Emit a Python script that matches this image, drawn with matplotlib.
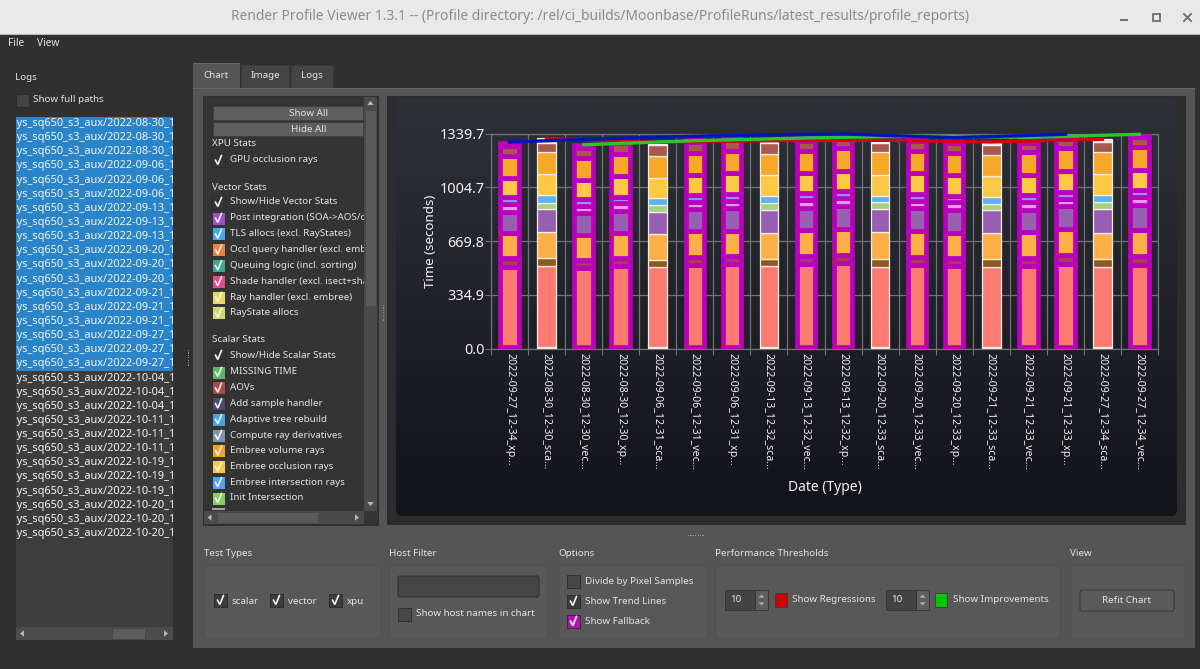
import numpy as np
import matplotlib
matplotlib.use("Agg")
import matplotlib.pyplot as plt
from matplotlib.patches import Rectangle, FancyBboxPatch, Polygon

plt.rcParams['font.family'] = ['Noto Sans', 'DejaVu Sans']

# ---------- chart data ----------
categories = [
    "2022-09-27_12-34_xp...", "2022-08-30_12-30_sca...", "2022-08-30_12-30_vec...",
    "2022-08-30_12-30_xp...", "2022-09-06_12-31_sca...", "2022-09-06_12-31_vec...",
    "2022-09-06_12-31_xp...", "2022-09-13_12-32_sca...", "2022-09-13_12-32_vec...",
    "2022-09-13_12-32_xp...", "2022-09-20_12-33_sca...", "2022-09-20_12-33_vec...",
    "2022-09-20_12-33_xp...", "2022-09-21_12-33_sca...", "2022-09-21_12-33_vec...",
    "2022-09-21_12-33_xp...", "2022-09-27_12-34_sca...", "2022-09-27_12-34_vec...",
]
y_ticks = [0.0, 334.9, 669.8, 1004.7, 1339.7]
is_scalar = [False, True, False, False, True, False, False, True, False,
             False, True, False, False, True, False, False, True, False]

base      = [10] * 18
salmon    = [501, 507, 493, 505, 497, 512, 514, 507, 516, 522, 501, 510, 503, 501, 505, 518, 501, 512]
brown     = [52, 46, 48, 48, 46, 50, 52, 42, 54, 50, 46, 52, 50, 46, 50, 54, 46, 54]
amber     = [156, 166, 156, 156, 164, 158, 158, 164, 158, 162, 168, 160, 160, 166, 160, 162, 166, 162]
purple    = [135, 139, 135, 141, 137, 141, 143, 141, 141, 146, 146, 143, 143, 139, 141, 146, 148, 158]
pale      = [46, 42, 46, 46, 42, 44, 46, 42, 46, 46, 40, 48, 46, 40, 48, 44, 40, 46]
sky       = [44, 46, 42, 42, 42, 42, 42, 46, 44, 44, 42, 42, 42, 42, 42, 42, 46, 44]
yellow    = [121, 133, 121, 125, 127, 127, 127, 129, 123, 129, 131, 127, 125, 129, 127, 129, 129, 127]
orange    = [137, 135, 137, 139, 137, 137, 139, 135, 141, 139, 139, 139, 139, 135, 141, 143, 139, 141]
rust      = [64, 60, 64, 67, 67, 67, 69, 64, 62, 58, 60, 64, 62, 64, 60, 58, 60, 67]
top_cap   = [15, 27, 17, 12, 6, 15, 10, 8, 19, 12, 6, 12, 17, 8, 17, 12, 23, 4]
segments = [base, salmon, brown, amber, purple, pale, sky, yellow, orange, rust, top_cap]

scalar_colors   = ['#f2e6dc', '#fb7b72', '#8c5a1c', '#fdb047', '#995fb2', '#a9d184', '#5fb0ee', '#fdc945', '#f6a82a', '#a9584e', '#dfe9dc']
fallback_colors = ['#fb7b72', '#fb7b72', '#a83c5c', '#fdb047', '#995fb2', '#e89ae8', '#8f92ff', '#fdc945', '#f6a82a', '#a9584e', '#bb00bb']

trend_x_xpu, trend_xpu = [0, 3, 6, 9, 12, 15], [1288, 1311, 1330, 1338, 1315, 1336]
trend_x_vec, trend_vec = [2, 5, 8, 11, 14, 17], [1271, 1296, 1313, 1324, 1317, 1336]
trend_x_sca, trend_sca = [1, 4, 7, 10, 13, 16], [1311, 1286, 1296, 1299, 1288, 1305]

# ---------- GUI text data ----------
log_dates = (["2022-08-30"] * 3 + ["2022-09-06"] * 3 + ["2022-09-13"] * 3 + ["2022-09-20"] * 3 +
             ["2022-09-21"] * 3 + ["2022-09-27"] * 3 + ["2022-10-04"] * 3 + ["2022-10-11"] * 3 +
             ["2022-10-19"] * 3 + ["2022-10-20"] * 3)
vector_items = [("Post integration (SOA->AOS/conv)", '#a04fc4'), ("TLS allocs (excl. RayStates)", '#48a8ea'),
                ("Occl query handler (excl. embree)", '#ef7f45'), ("Queuing logic (incl. sorting)", '#3fa88f'),
                ("Shade handler (excl. isect+shading)", '#e04a8e'), ("Ray handler (excl. embree)", '#e8d85e'),
                ("RayState allocs", '#d0d870')]
scalar_items = [("MISSING TIME", '#5fb865'), ("AOVs", '#a84a4a'), ("Add sample handler", '#4a4c6c'),
                ("Adaptive tree rebuild", '#48a2e2'), ("Compute ray derivatives", '#8494a6'),
                ("Embree volume rays", '#f0a224'), ("Embree occlusion rays", '#f8c848'),
                ("Embree intersection rays", '#52a2f2'), ("Init Intersection", '#8acc62')]

fig = plt.figure(figsize=(12, 6.69), dpi=100, facecolor='#303030')
ui = fig.add_axes([0, 0, 1, 1], zorder=0)
ui.set_xlim(0, 1200)
ui.set_ylim(669, 0)
ui.axis('off')

TXT = '#e4e4e4'
FS = 7.05

def box(x, y, w, h, color, edge='none', lw=0, z=1):
    p = Rectangle((x, y), w, h, facecolor=color, edgecolor=edge, linewidth=lw, zorder=z)
    ui.add_patch(p)
    return p

def label(x, y, s, size=FS, color=TXT, ha='left', z=5, **kw):
    return ui.text(x, y + 1, s, fontsize=size, color=color, ha=ha, va='center', zorder=z, **kw)

def check(x, y, color='#333333', checked=True, size=13):
    box(x, y - size / 2, size, size, color, edge='#2a2a2a', lw=0.6, z=3)
    if checked:
        ui.plot([x + 3.5, x + 5.8, x + 9.5], [y + 0.2, y + 4.5, y - 4.5], color='#f2f2f2', lw=1.2, zorder=4,
                solid_joinstyle='miter')

def arrow(cx, cy, d, s=3.2, color='#bdbdbd'):
    if d == 'u':
        pts = [(cx - s, cy + s * 0.6), (cx + s, cy + s * 0.6), (cx, cy - s * 0.6)]
    elif d == 'd':
        pts = [(cx - s, cy - s * 0.6), (cx + s, cy - s * 0.6), (cx, cy + s * 0.6)]
    elif d == 'l':
        pts = [(cx + s * 0.6, cy - s), (cx + s * 0.6, cy + s), (cx - s * 0.6, cy)]
    else:
        pts = [(cx - s * 0.6, cy - s), (cx - s * 0.6, cy + s), (cx + s * 0.6, cy)]
    ui.add_patch(Polygon(pts, closed=True, facecolor=color, edgecolor='none', zorder=4))

def dots_v(x, y0, y1):
    for yy in np.arange(y0, y1, 2.4):
        box(x, yy, 1.2, 1.2, '#8a8a8a', z=3)

def clipped(t, patch):
    t.set_clip_path(patch)
    t.set_clip_on(True)

# title bar
box(0, 0, 1200, 34, '#e9e9e9')
box(0, 34, 1200, 1, '#bdbdbd')
label(600, 16, "Render Profile Viewer 1.3.1 -- (Profile directory: /rel/ci_builds/Moonbase/ProfileRuns/latest_results/profile_reports)",
      size=9.95, color='#8b8b8b', ha='center', fontweight='medium')
box(1120, 18.5, 8, 2, '#707070')
ui.add_patch(Rectangle((1153, 14), 6.5, 6.5, facecolor='none', edgecolor='#707070', linewidth=1.3, zorder=3))
ui.plot([1184, 1191], [14, 21], color='#707070', lw=1.4, zorder=3)
ui.plot([1191, 1184], [14, 21], color='#707070', lw=1.4, zorder=3)

# menu
label(8, 43, "File", size=7.3)
label(37, 43, "View", size=7.3)

# left pane
label(15, 76, "Logs")
check(16, 100, '#444444', checked=False)
label(33, 99, "Show full paths")
box(16, 117, 157, 510, '#3d3d3d')
box(16, 117, 157, 254, '#2a84c9', z=2)
clip = Rectangle((16, 117), 157, 510, transform=ui.transData)
for i, d in enumerate(log_dates):
    t = label(6, 122.5 + i * 14.14, "rays_sq650_s3_aux/" + d + "_12-30_scalar", size=7.9, color='#f4f4f4')
    clipped(t, clip)
box(16, 627, 157, 13, '#4c4c4c', z=2)
box(112, 628, 33, 11, '#5c5c5c', edge='#454545', lw=0.6, z=3)
arrow(22, 633.5, 'l')
arrow(166, 633.5, 'r')
dots_v(188, 350, 366)

# tabs and main panel
box(193, 88, 1002, 560, '#555555')
box(193, 88, 1002, 1, '#686868', z=1.5)
box(241, 65, 48, 23, '#444444', edge='#3a3a3a', lw=0.5)
box(291, 65, 42, 23, '#444444', edge='#3a3a3a', lw=0.5)
box(193, 63, 47, 26, '#555555')
box(193, 63, 47, 1, '#686868', z=1.5)
label(216, 74, "Chart", ha='center')
label(265, 75, "Image", ha='center')
label(312, 75, "Logs", ha='center')

# stats scroll area
box(203, 96, 175, 429, '#343434', edge='#2b2b2b', lw=0.6)
box(364, 97, 13, 414, '#4b4b4b', z=2)
box(365, 110, 11, 196, '#5a5a5a', edge='#454545', lw=0.5, z=3)
arrow(370.5, 103, 'u')
arrow(370.5, 504, 'd')
box(204, 511, 160, 13, '#4b4b4b', z=2)
box(217, 512, 101, 11, '#5a5a5a', edge='#454545', lw=0.5, z=3)
arrow(209.5, 517.5, 'l')
arrow(357, 517.5, 'r')
box(213, 106, 150, 14, '#5e5e5e', edge='#3b3b3b', lw=0.5, z=2)
box(213, 122, 150, 14, '#5e5e5e', edge='#3b3b3b', lw=0.5, z=2)
label(309, 112, "Show All", ha='center')
label(309, 128, "Hide All", ha='center')
label(212, 143, "XPU Stats")
check(212, 160, '#343434')
label(230, 159, "GPU occlusion rays")
label(212, 186, "Vector Stats")
check(212, 202, '#343434')
label(230, 201, "Show/Hide Vector Stats")
panel_clip = Rectangle((204, 97), 160, 413, transform=ui.transData)
for i, (name, col) in enumerate(vector_items):
    yy = 218 + i * 15.8
    check(212, yy, col)
    clipped(label(230, yy - 1, name), panel_clip)
label(212, 339, "Scalar Stats")
check(212, 355, '#343434')
label(230, 354, "Show/Hide Scalar Stats")
for i, (name, col) in enumerate(scalar_items):
    yy = 372 + i * 15.75
    check(212, yy, col)
    label(230, yy - 1, name)
box(212, 508, 13, 2, '#a0a0a0', z=3)
dots_v(383, 305, 321)

# chart canvas
box(387, 96, 799, 429, '#2c2c2e')
grad = np.linspace(0, 1, 256).reshape(-1, 1)
top_c, bot_c = np.array([0x2e, 0x30, 0x38]) / 255, np.array([0x13, 0x13, 0x1a]) / 255
img = ui.imshow(top_c + (bot_c - top_c) * grad[..., None], extent=(396, 1177, 516, 98), aspect='auto', zorder=1.2)
ui.set_xlim(0, 1200)
ui.set_ylim(669, 0)
clip_panel = FancyBboxPatch((399, 101), 775, 412, boxstyle="round,pad=3,rounding_size=6", transform=ui.transData)
img.set_clip_path(clip_panel)

# bottom groups
for x, w, in [(204, 177), (389, 158), (558, 149), (715, 345), (1070, 115)]:
    box(x, 565, w, 73, '#585858', edge='#505050', lw=0.5)
for xd in np.arange(688, 704, 2.4):
    box(xd, 534.5, 1.2, 1.2, '#9a9a9a', z=3)

label(204, 553, "Test Types")
check(214, 600, '#3c3c3c')
label(232, 600, "scalar")
check(270, 600, '#3c3c3c')
label(288, 600, "vector")
check(329, 600, '#3c3c3c')
label(347, 600, "xpu")

label(389, 553, "Host Filter")
ui.add_patch(FancyBboxPatch((399, 577), 139, 19, boxstyle="round,pad=1,rounding_size=2", facecolor='#454545',
                            edgecolor='#333333', linewidth=0.8, zorder=2))
check(398, 614, '#474747', checked=False)
label(416, 613, "Show host names in chart")

label(558, 553, "Options")
check(567, 581, '#474747', checked=False)
label(585, 580, "Divide by Pixel Samples")
check(567, 601, '#3c3c3c')
label(585, 600, "Show Trend Lines")
check(567, 621, '#b012b0')
label(585, 620, "Show Fallback")

label(715, 553, "Performance Thresholds")
for sx in (725, 886):
    box(sx, 590, 30, 20, '#434343', edge='#333333', lw=0.6, z=2)
    box(sx + 30, 590, 13, 20, '#5e5e5e', edge='#333333', lw=0.6, z=2)
    arrow(sx + 36.5, 596, 'u', s=3, color='#a5a5a5')
    arrow(sx + 36.5, 604, 'd', s=3, color='#a5a5a5')
    label(sx + 5, 599, "10")
box(775, 593, 12, 14, '#d00000', edge='#3a3a3a', lw=0.6, z=2)
label(792, 599, "Show Regressions")
box(935, 593, 12, 14, '#00c800', edge='#3a3a3a', lw=0.6, z=2)
label(953, 599, "Show Improvements")

label(1070, 553, "View")
ui.add_patch(FancyBboxPatch((1081, 591), 92, 19, boxstyle="round,pad=1,rounding_size=2", facecolor='#5a5a5a',
                            edgecolor='#383838', linewidth=0.8, zorder=2))
label(1127, 599.5, "Refit Chart", ha='center')

# ---------- the chart ----------
ax = fig.add_axes([491 / 1200, 1 - 348.5 / 669, 667 / 1200, 214.8 / 669], zorder=3)
ax.patch.set_alpha(0)
x = np.arange(len(categories))
GRID = '#727276'
bottom = np.zeros(len(categories))
for k, seg in enumerate(segments):
    seg = np.array(seg, dtype=float)
    for i in x:
        if is_scalar[i]:
            fc, ec, lw = scalar_colors[k], '#f4efe8', 0.9
        else:
            fc, ec, lw = fallback_colors[k], '#bb00bb', 3.4
        ax.bar(i, seg[i], bottom=bottom[i], width=0.5, color=fc, edgecolor=ec, linewidth=lw, zorder=3)
    bottom += seg

ax.plot(trend_x_sca, trend_sca, color='#d40012', lw=2.4, zorder=5, clip_on=False)
ax.plot(trend_x_vec, trend_vec, color='#2ec42e', lw=2.4, zorder=6, clip_on=False)
ax.plot(trend_x_xpu, trend_xpu, color='#0414b4', lw=2.4, zorder=7, clip_on=False)

ax.set_xlim(-0.5, len(categories) - 0.5)
ax.set_ylim(0, 1339.7)
ax.set_yticks(y_ticks)
ax.set_yticklabels([f"{v:.1f}" for v in y_ticks], fontsize=10.4, color='#f2f2f2')
ax.set_xticks(x)
ax.set_xticklabels(categories, rotation=270, fontsize=7.6, color='#f2f2f2',
                   ha='center', va='top')
ax.set_xticks(np.arange(-0.5, len(categories)), minor=True)
ax.tick_params(axis='x', which='major', length=0, pad=3)
ax.tick_params(axis='x', which='minor', length=4, width=0.8, color=GRID)
ax.tick_params(axis='y', which='major', length=4, width=0.8, color=GRID, pad=0.5)
ax.grid(True, axis='y', color=GRID, lw=0.9, zorder=1)
ax.grid(True, axis='x', which='minor', color=GRID, lw=0.9, zorder=1)
ax.grid(False, axis='x', which='major')
ax.set_axisbelow(True)
for s in ax.spines.values():
    s.set_color(GRID)
    s.set_linewidth(0.9)
ax.set_ylabel("Time (seconds)", fontsize=9.6, color='#f2f2f2', labelpad=2)
ax.set_xlabel("Date (Type)", fontsize=10.0, color='#f2f2f2')
ax.xaxis.set_label_coords(0.5, -0.61)

fig.savefig("out.png", dpi=100, facecolor=fig.get_facecolor())
